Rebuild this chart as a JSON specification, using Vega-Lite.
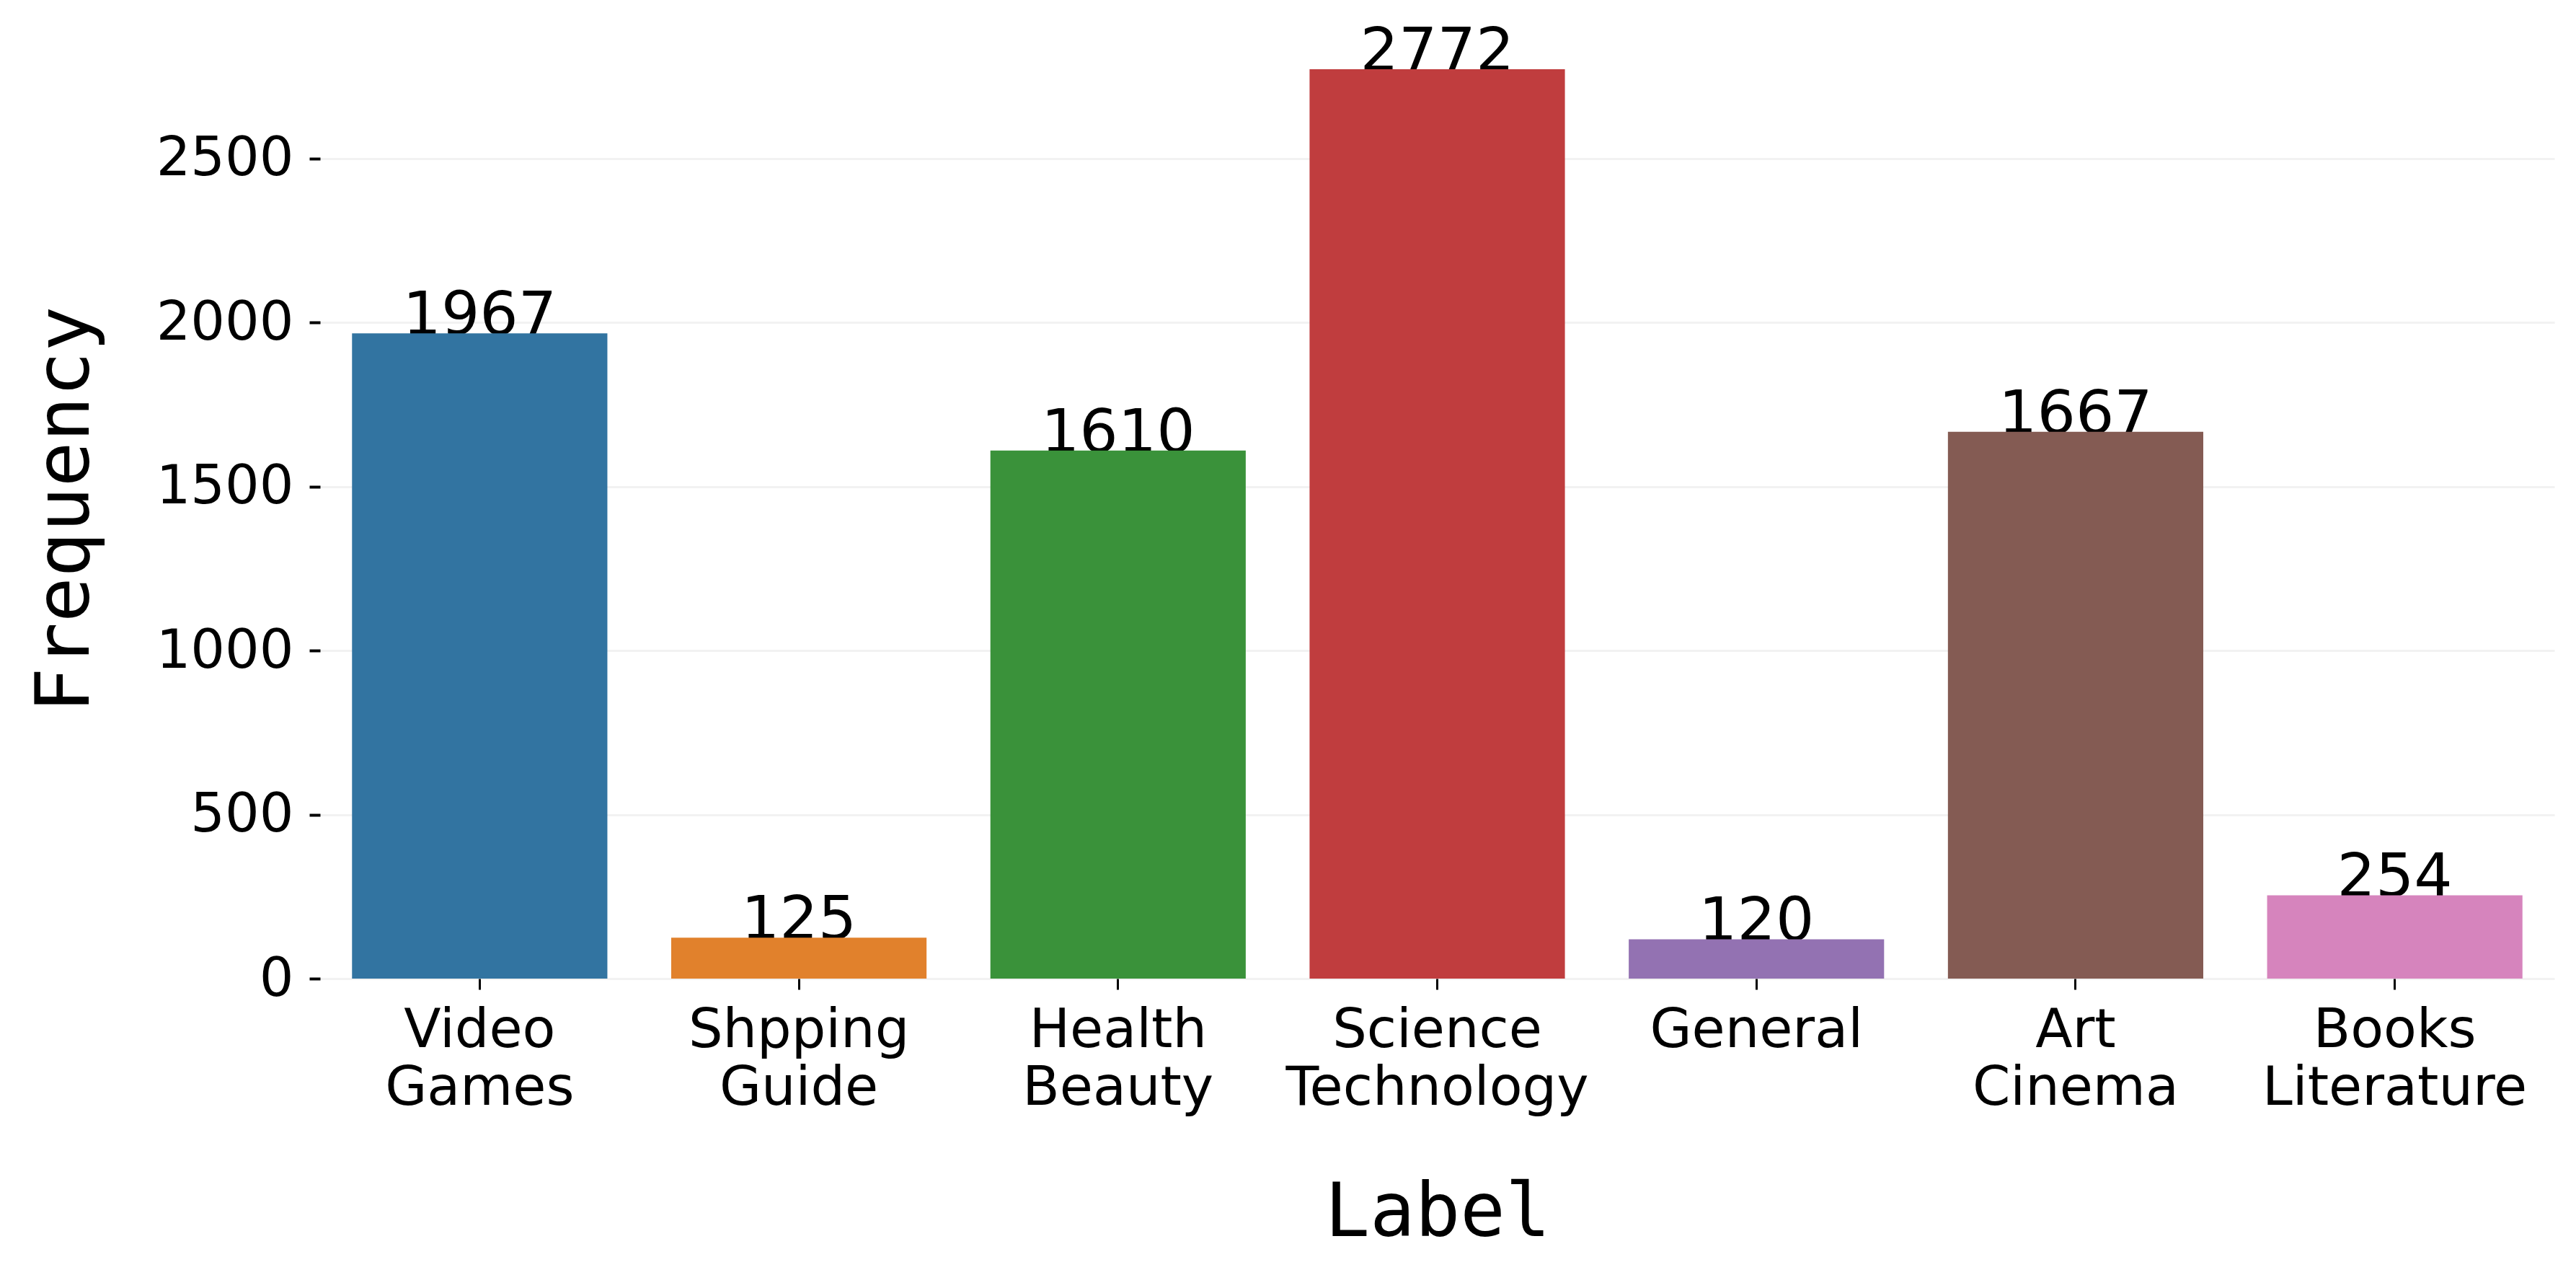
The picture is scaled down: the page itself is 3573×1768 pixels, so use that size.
{
  "$schema": "https://vega.github.io/schema/vega-lite/v6.json",
  "autosize": "none",
  "width": 3099,
  "height": 1324,
  "padding": {"left": 444, "top": 33, "right": 30, "bottom": 411},
  "background": "white",
  "config": {
    "view": {"stroke": null},
    "font": "DejaVu Sans"
  },
  "data": {
    "values": [
      {"label": "Video Games", "count": 1967},
      {"label": "Shpping Guide", "count": 125},
      {"label": "Health Beauty", "count": 1610},
      {"label": "Science Technology", "count": 2772},
      {"label": "General", "count": 120},
      {"label": "Art Cinema", "count": 1667},
      {"label": "Books Literature", "count": 254}
    ]
  },
  "encoding": {
    "x": {
      "field": "label",
      "type": "nominal",
      "sort": null,
      "scale": {"paddingInner": 0.2, "paddingOuter": 0.1},
      "axis": {
        "title": "Label",
        "titleFont": "DejaVu Sans Mono",
        "titleFontSize": 104,
        "titleFontWeight": "normal",
        "titleColor": "black",
        "titleBaseline": "middle",
        "titleY": 325,
        "labelExpr": "split(datum.label, ' ')",
        "labelFont": "DejaVu Sans",
        "labelFontSize": 75,
        "labelColor": "black",
        "labelLineHeight": 80,
        "labelPadding": 20,
        "labelAngle": 0,
        "labelLimit": 0,
        "tickSize": 15,
        "tickWidth": 3,
        "tickColor": "black",
        "domain": false,
        "grid": false
      }
    },
    "y": {
      "field": "count",
      "type": "quantitative",
      "scale": {"domain": [0, 2910.6], "nice": false, "zero": true},
      "axis": {
        "title": "Frequency",
        "titleFont": "DejaVu Sans Mono",
        "titleFontSize": 104,
        "titleFontWeight": "normal",
        "titleColor": "black",
        "titleAngle": 270,
        "titleBaseline": "middle",
        "titleAlign": "center",
        "titleX": -353,
        "titleY": 673,
        "values": [0, 500, 1000, 1500, 2000, 2500],
        "format": "d",
        "labelFont": "DejaVu Sans",
        "labelFontSize": 75,
        "labelColor": "black",
        "labelPadding": 22,
        "labelLimit": 0,
        "tickSize": 15,
        "tickWidth": 4,
        "tickColor": "black",
        "domain": false,
        "grid": true,
        "gridColor": "#f2f2f2",
        "gridWidth": 3
      }
    }
  },
  "layer": [
    {
      "mark": {"type": "text", "baseline": "alphabetic", "align": "center", "fontSize": 84, "font": "DejaVu Sans", "color": "black", "dy": 2},
      "encoding": {"text": {"field": "count", "type": "quantitative", "format": "d"}}
    },
    {
      "mark": {"type": "bar"},
      "encoding": {
        "color": {
          "field": "label",
          "type": "nominal",
          "sort": null,
          "legend": null,
          "scale": {
            "domain": ["Video Games", "Shpping Guide", "Health Beauty", "Science Technology", "General", "Art Cinema", "Books Literature"],
            "range": ["#3274a1", "#e1812c", "#3a923a", "#c03d3e", "#9372b2", "#845b53", "#d684bd"]
          }
        }
      }
    }
  ]
}
